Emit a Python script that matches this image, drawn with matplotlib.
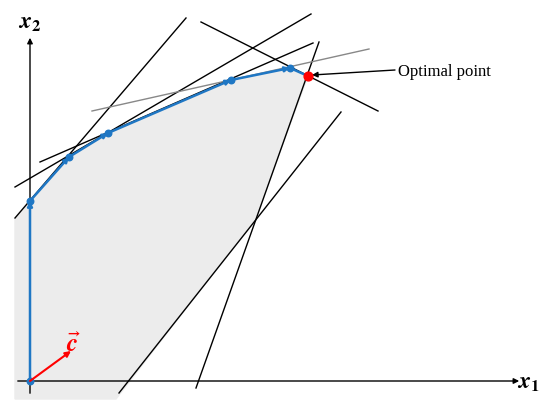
import matplotlib
matplotlib.use("Agg")
import matplotlib.pyplot as plt

# diagram geometry (pixel-like units, y downward)
path_x = [30, 30, 69, 108, 231, 290]
path_y = [382, 202, 158, 134, 81, 69]
opt = (308, 77)
lines = [((15, 219), (186, 19)), ((15, 188), (311, 15)), ((40, 163), (313, 44)),
         ((201, 23), (378, 112)), ((196, 389), (319, 43)), ((119, 394), (341, 113))]
gray_line = ((92, 112), (369, 50))
region_x = [15, 116, 255, 308, 290, 231, 108, 69, 30, 15]
region_y = [400, 400, 220, 77, 69, 81, 134, 158, 202, 219]

fig = plt.figure(figsize=(5.5, 4.06), dpi=100)
ax = fig.add_axes([0, 0, 1, 1])
ax.set_xlim(0, 550); ax.set_ylim(406, 0); ax.axis('off')

ax.fill(region_x, region_y, color='#ececec', zorder=0)
for (a, b) in lines:
    ax.plot([a[0], b[0]], [a[1], b[1]], color='black', lw=1, zorder=2)
ax.plot([gray_line[0][0], gray_line[1][0]], [gray_line[0][1], gray_line[1][1]], color='#888888', lw=1, zorder=2)

# axes
ax.annotate('', xy=(522, 382), xytext=(15, 382), arrowprops=dict(arrowstyle='-|>', color='black', lw=1, mutation_scale=8), zorder=3)
ax.annotate('', xy=(30, 36), xytext=(30, 397), arrowprops=dict(arrowstyle='-|>', color='black', lw=1, mutation_scale=8), zorder=3)
serif = dict(family='Liberation Serif', weight='bold', style='italic')
ax.text(517, 382, r'$\boldsymbol{x}_{\mathbf{1}}$', fontsize=17, va='center', ha='left', math_fontfamily='stix')
ax.text(18, 22, r'$\boldsymbol{x}_{\mathbf{2}}$', fontsize=17, va='center', ha='left', math_fontfamily='stix')

# simplex path
for i in range(len(path_x) - 1):
    ax.annotate('', xy=(path_x[i+1], path_y[i+1]), xytext=(path_x[i], path_y[i]),
                arrowprops=dict(arrowstyle='-|>', color='#1f77c4', lw=1.8, mutation_scale=7, shrinkA=0, shrinkB=0), zorder=4)
ax.annotate('', xy=opt, xytext=(path_x[-1], path_y[-1]),
            arrowprops=dict(arrowstyle='-', color='#1f77c4', lw=1.8, shrinkA=0, shrinkB=0), zorder=4)
ax.scatter(path_x, path_y, s=22, color='#1f77c4', zorder=5)
ax.scatter([opt[0]], [opt[1]], s=40, color='red', zorder=6)

# c vector
ax.annotate('', xy=(71, 352), xytext=(30, 382), arrowprops=dict(arrowstyle='-|>', color='red', lw=1.5, mutation_scale=8, shrinkA=0, shrinkB=0), zorder=5)
ax.text(66, 345, r'$\vec{\boldsymbol{c}}$', color='red', fontsize=18, va='center', ha='left', math_fontfamily='stix')

# annotation
ax.annotate('', xy=(312, 76), xytext=(395, 71), arrowprops=dict(arrowstyle='-|>', color='black', lw=1, mutation_scale=8, shrinkA=0, shrinkB=0), zorder=5)
ax.text(398, 72, 'Optimal point', fontsize=12, family='Liberation Serif', va='center', ha='left')

fig.savefig('out.png', dpi=100)
